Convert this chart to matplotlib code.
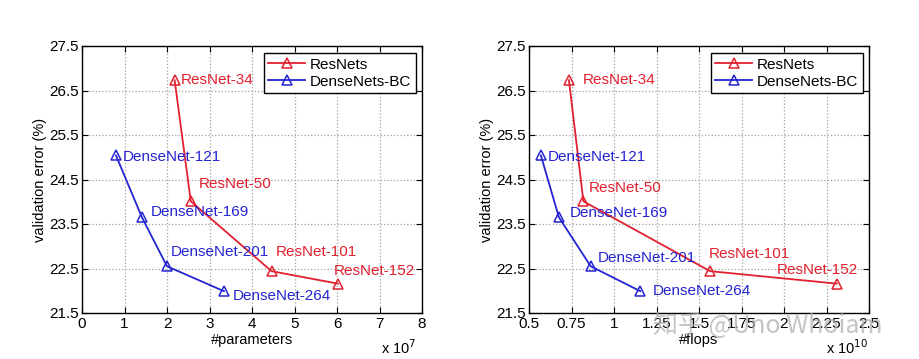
import matplotlib
matplotlib.use("Agg")
import matplotlib.pyplot as plt

plt.rcParams['font.family'] = ['Liberation Sans', 'DejaVu Sans']

# ---- data ----
resnet_names = ["ResNet-34", "ResNet-50", "ResNet-101", "ResNet-152"]
resnet_params = [2.18, 2.56, 4.46, 6.02]      # x 1e7
resnet_flops = [0.735, 0.82, 1.565, 2.31]     # x 1e10
resnet_err = [26.73, 24.01, 22.44, 22.16]

dense_names = ["DenseNet-121", "DenseNet-169", "DenseNet-201", "DenseNet-264"]
dense_params = [0.80, 1.41, 2.00, 3.34]       # x 1e7
dense_flops = [0.57, 0.676, 0.863, 1.155]     # x 1e10
dense_err = [25.04, 23.65, 22.55, 21.99]

yticks = [21.5, 22.5, 23.5, 24.5, 25.5, 26.5, 27.5]
param_ticks = [0, 1, 2, 3, 4, 5, 6, 7, 8]
flop_ticks = [0.5, 0.75, 1, 1.25, 1.5, 1.75, 2, 2.25, 2.5]
flop_ticklabels = ["0.5", "0.75", "1", "1.25", "1.5", "1.75", "2", "2.25", "2.5"]

RED = '#e3202e'
BLUE = '#2424d2'

W, H = 919, 359
fig = plt.figure(figsize=(W / 100, H / 100), dpi=100)

def px(v):
    return v * 0.72  # pixels -> points at dpi 100

def make_ax(left_px, xs_r, xs_d, xticks, xticklabels, xlim, xlabel, exp_text, exp_x,
            res_off, den_off):
    ax = fig.add_axes([left_px / W, (H - 313) / H, 340 / W, 267 / H])
    ax.plot(xs_r, resnet_err, color=RED, lw=1.3, marker='^', ms=6.5,
            mfc='none', mec=RED, mew=1.1, label='ResNets', zorder=3)
    ax.plot(xs_d, dense_err, color=BLUE, lw=1.3, marker='^', ms=6.5,
            mfc='none', mec=BLUE, mew=1.1, label='DenseNets-BC', zorder=3)
    for name, x, y, off in zip(resnet_names, xs_r, resnet_err, res_off):
        ax.annotate(name, (x, y), xytext=(px(off[0]), px(off[1])), textcoords='offset points',
                    ha='left', va='center', color=RED, fontsize=11)
    for name, x, y, off in zip(dense_names, xs_d, dense_err, den_off):
        ax.annotate(name, (x, y), xytext=(px(off[0]), px(off[1])), textcoords='offset points',
                    ha='left', va='center', color=BLUE, fontsize=11)
    ax.set_xlim(*xlim)
    ax.set_ylim(21.5, 27.5)
    ax.set_xticks(xticks)
    ax.set_xticklabels(xticklabels)
    ax.set_yticks(yticks)
    ax.set_yticklabels([f"{v:.1f}" for v in yticks])
    ax.tick_params(direction='in', length=4, width=0.8, labelsize=11, pad=2,
                   top=True, right=True, colors='black')
    ax.tick_params(axis='x', pad=3)
    ax.grid(True, linestyle=':', color='#a0a0a0', lw=0.9)
    for s in ax.spines.values():
        s.set_linewidth(1.0)
        s.set_color('black')
    ax.set_xlabel(xlabel, fontsize=10.5, labelpad=1)
    ax.set_ylabel('validation error (%)', fontsize=10.5, labelpad=2)
    ax.text(exp_x, -0.131, exp_text, transform=ax.transAxes, ha='right', va='center',
            fontsize=10.5)
    leg = ax.legend(loc='upper right', bbox_to_anchor=(0.99, 0.985), fontsize=11,
                    frameon=True, fancybox=False, edgecolor='black', framealpha=1,
                    handlelength=2.4, handletextpad=0.3, borderpad=0.3,
                    labelspacing=0.2, borderaxespad=0.2)
    leg.get_frame().set_linewidth(1.0)
    return ax

ax1 = make_ax(82, resnet_params, dense_params, param_ticks,
              [str(t) for t in param_ticks], (0, 8), '#parameters',
              r'x 10$^{7}$', 0.985,
              res_off=[(6, 0), (8, 17.6), (4.3, 19), (-3.7, 12.3)],
              den_off=[(6.7, -2), (9.3, 5.7), (3.3, 14), (9.3, -4.7)])

ax2 = make_ax(529, resnet_flops, dense_flops, flop_ticks, flop_ticklabels,
              (0.5, 2.5), '#flops', r'x 10$^{10}$', 0.997,
              res_off=[(13.7, 0), (5.7, 13.7), (-1.7, 16.7), (-60, 13.7)],
              den_off=[(7.3, -1.3), (11, 4), (6.7, 8.3), (12.3, 0)])

# watermark
fig.text(768 / W, 1 - 326 / H, '知乎 @Uno Whoiam', ha='center', va='center',
         fontsize=18, color='#b0b0b0', alpha=0.75,
         family=['Noto Sans CJK SC', 'DejaVu Sans'], zorder=10)

fig.savefig('out.png', dpi=100, facecolor='white')
